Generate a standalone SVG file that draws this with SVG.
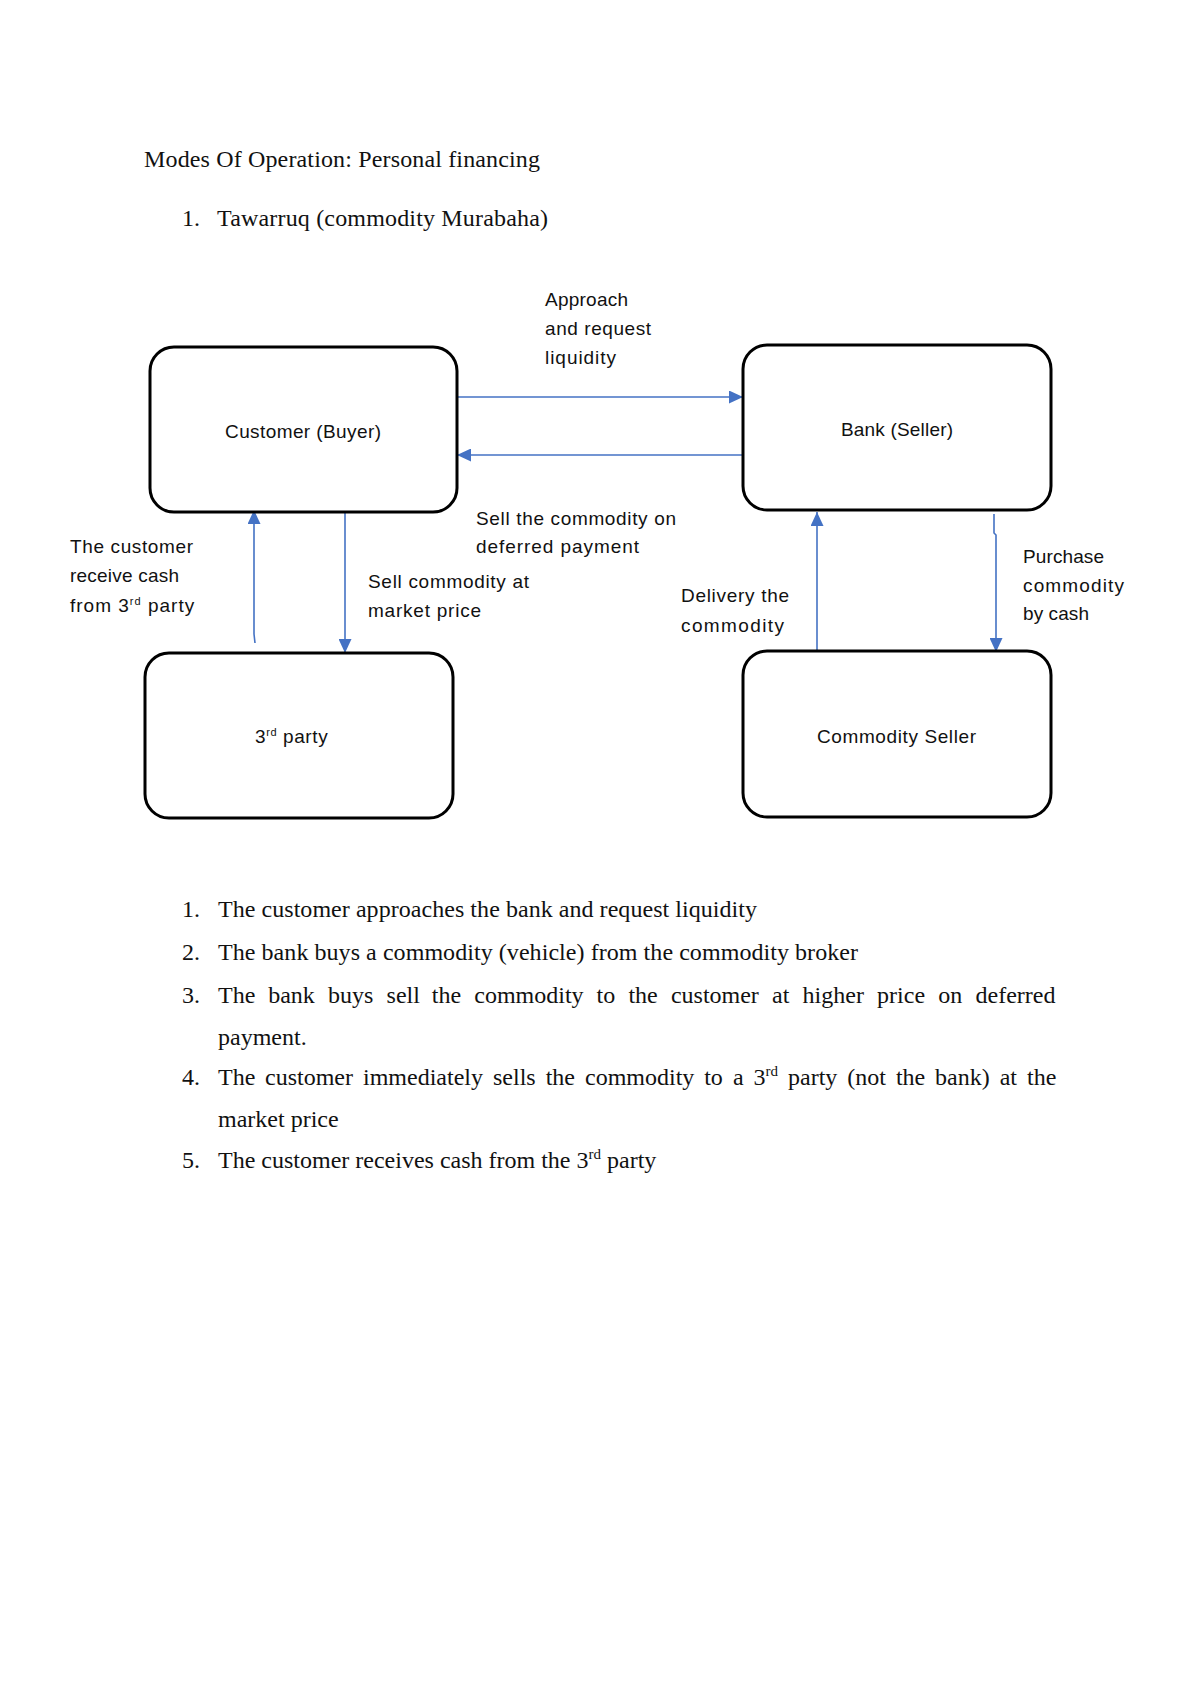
<svg xmlns="http://www.w3.org/2000/svg" width="1200" height="1696" viewBox="0 0 1200 1696">
<style>
.doc{font-family:"Liberation Serif","Times New Roman",serif;font-size:24px;fill:#111}
.lbl{font-family:"Liberation Sans",Arial,sans-serif;font-size:19px;fill:#111}
.box{fill:#fff;stroke:#000;stroke-width:3}
.con{fill:none;stroke:#4472C4;stroke-width:1.6}
</style>
<defs>
<marker id="ah" markerUnits="userSpaceOnUse" markerWidth="15" markerHeight="13" refX="14" refY="6.5" orient="auto">
<path d="M0,0 L14,6.5 L0,13 Z" fill="#4472C4"/>
</marker>
</defs>
<rect width="1200" height="1696" fill="#fff"/>

<g id="heading">
<text class="doc" x="144" y="167" textLength="396" lengthAdjust="spacing">Modes Of Operation: Personal financing</text>
<text class="doc" x="182" y="226">1.</text>
<text class="doc" x="217" y="226" textLength="331" lengthAdjust="spacing">Tawarruq (commodity Murabaha)</text>
</g>

<g id="connectors">
<path class="con" d="M457,397 L743,397" marker-end="url(#ah)"/>
<path class="con" d="M743,455 L457,455" marker-end="url(#ah)"/>
<path class="con" d="M255,643 L254,634 L254,510" marker-end="url(#ah)"/>
<path class="con" d="M345,513 L345,653" marker-end="url(#ah)"/>
<path class="con" d="M817,651 L817,512" marker-end="url(#ah)"/>
<path class="con" d="M994,514 L994,533 L996,535 L996,652" marker-end="url(#ah)"/>
</g>

<g id="customer">
<rect class="box" x="150" y="347" width="307" height="165" rx="24"/>
<text class="lbl" x="225" y="438" textLength="156" lengthAdjust="spacing">Customer (Buyer)</text>
</g>
<g id="bank">
<rect class="box" x="743" y="345" width="308" height="165" rx="24"/>
<text class="lbl" x="841" y="436" textLength="112" lengthAdjust="spacing">Bank (Seller)</text>
</g>
<g id="third-party">
<rect class="box" x="145" y="653" width="308" height="165" rx="24"/>
<text class="lbl" x="255" y="743" letter-spacing="0.6">3<tspan dy="-7" font-size="11">rd</tspan><tspan dy="7"> party</tspan></text>
</g>
<g id="commodity-seller">
<rect class="box" x="743" y="651" width="308" height="166" rx="24"/>
<text class="lbl" x="817" y="743" textLength="159" lengthAdjust="spacing">Commodity Seller</text>
</g>

<g id="labels">
<text class="lbl" x="545" y="306" textLength="83" lengthAdjust="spacing">Approach</text>
<text class="lbl" x="545" y="335" textLength="106" lengthAdjust="spacing">and request</text>
<text class="lbl" x="545" y="364" textLength="71" lengthAdjust="spacing">liquidity</text>

<text class="lbl" x="476" y="525" textLength="200" lengthAdjust="spacing">Sell the commodity on</text>
<text class="lbl" x="476" y="553" textLength="163" lengthAdjust="spacing">deferred payment</text>

<text class="lbl" x="70" y="553" textLength="123" lengthAdjust="spacing">The customer</text>
<text class="lbl" x="70" y="582" textLength="109" lengthAdjust="spacing">receive cash</text>
<text class="lbl" x="70" y="612" letter-spacing="1">from 3<tspan dy="-7" font-size="11">rd</tspan><tspan dy="7"> party</tspan></text>

<text class="lbl" x="368" y="588" textLength="161" lengthAdjust="spacing">Sell commodity at</text>
<text class="lbl" x="368" y="617" textLength="113" lengthAdjust="spacing">market price</text>

<text class="lbl" x="681" y="602" textLength="108" lengthAdjust="spacing">Delivery the</text>
<text class="lbl" x="681" y="632" textLength="103" lengthAdjust="spacing">commodity</text>

<text class="lbl" x="1023" y="563" textLength="81" lengthAdjust="spacing">Purchase</text>
<text class="lbl" x="1023" y="592" textLength="101" lengthAdjust="spacing">commodity</text>
<text class="lbl" x="1023" y="620" textLength="66" lengthAdjust="spacing">by cash</text>
</g>

<g id="steps">
<text class="doc" x="182" y="917">1.</text>
<text class="doc" x="218" y="917" textLength="539" lengthAdjust="spacing">The customer approaches the bank and request liquidity</text>
<text class="doc" x="182" y="960">2.</text>
<text class="doc" x="218" y="960" textLength="640" lengthAdjust="spacing">The bank buys a commodity (vehicle) from the commodity broker</text>
<text class="doc" x="182" y="1003">3.</text>
<text class="doc" y="1003"><tspan x="218">The</tspan><tspan x="268.2">bank</tspan><tspan x="328.1">buys</tspan><tspan x="386.6">sell</tspan><tspan x="431.8">the</tspan><tspan x="474.3">commodity</tspan><tspan x="596.5">to</tspan><tspan x="628.4">the</tspan><tspan x="670.9">customer</tspan><tspan x="772.1">at</tspan><tspan x="802.6">higher</tspan><tspan x="877.1">price</tspan><tspan x="938.3">on</tspan><tspan x="975.5">deferred</tspan></text>
<text class="doc" x="218" y="1045">payment.</text>
<text class="doc" x="182" y="1085">4.</text>
<text class="doc" y="1085"><tspan x="218">The</tspan><tspan x="265">customer</tspan><tspan x="363">immediately</tspan><tspan x="493">sells</tspan><tspan x="545.7">the</tspan><tspan x="585">commodity</tspan><tspan x="704.2">to</tspan><tspan x="732.9">a</tspan><tspan x="753.5">3</tspan><tspan dy="-9" font-size="15">rd</tspan><tspan x="788" dy="9">party</tspan><tspan x="847.2">(not</tspan><tspan x="895.9">the</tspan><tspan x="935.1">bank)</tspan><tspan x="999.7">at</tspan><tspan x="1027">the</tspan></text>
<text class="doc" x="218" y="1127">market price</text>
<text class="doc" x="182" y="1168">5.</text>
<text class="doc" x="218" y="1168">The customer receives cash from the 3<tspan dy="-9" font-size="15">rd</tspan><tspan dy="9"> party</tspan></text>
</g>
</svg>
